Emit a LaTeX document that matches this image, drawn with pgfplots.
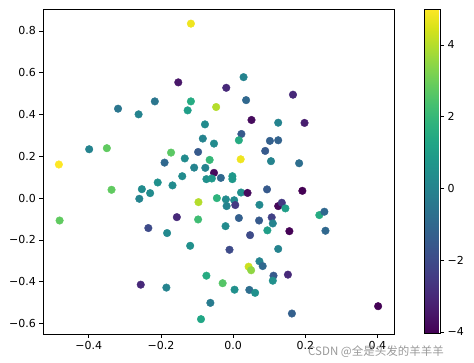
\documentclass[border=0pt]{standalone}
\usepackage{fontspec}
\setmainfont{DejaVu Sans}
\newfontfamily\cjk{Noto Sans CJK SC}
\usepackage{pgfplots}
\pgfplotsset{compat=1.18}
\usetikzlibrary{calc}
\pgfplotstableread{
x y c
-0.117 0.835 4.8
-0.152 0.554 -3.5
-0.217 0.463 -0.5
-0.117 0.463 1.5
-0.319 0.428 -0.5
-0.262 0.401 0
-0.126 0.420 1.0
-0.047 0.436 4.0
-0.078 0.353 0.3
-0.084 0.285 0
-0.053 0.261 0.3
-0.097 0.221 -1.5
-0.399 0.234 0
-0.350 0.239 2.8
-0.483 0.161 5.0
-0.172 0.218 2.7
-0.134 0.190 0.3
-0.190 0.170 -1.0
-0.065 0.183 2.0
-0.108 0.146 0
-0.077 0.145 0
-0.053 0.121 -3.8
0.029 0.579 0
-0.019 0.528 -3
0.166 0.495 -3
0.036 0.469 -1
0.051 0.374 -3.8
0.125 0.361 0
0.198 0.360 -3.3
0.023 0.307 -1.5
0.016 0.277 1.5
0.102 0.274 -1.3
0.125 0.277 -1.2
0.089 0.226 -1.5
0.021 0.186 4.8
0.105 0.177 0
0.183 0.167 -0.8
-0.074 0.091 0.5
-0.059 0.094 0.8
-0.141 0.105 0.3
-0.209 0.075 0.5
-0.168 0.061 0.3
-0.337 0.040 2.8
-0.253 0.043 0.3
-0.230 0.024 0.3
-0.260 -0.003 0
-0.096 -0.019 4.0
-0.045 0.000 1.8
-0.481 -0.107 2.8
-0.156 -0.091 -3
-0.097 -0.102 2.2
-0.235 -0.143 -2
-0.183 -0.167 0.2
-0.119 -0.228 0.5
-0.074 -0.371 1.5
-0.256 -0.414 -3
-0.185 -0.428 0
-0.063 -0.501 -0.3
-0.089 -0.579 1.3
-0.034 0.097 -1
-0.002 0.105 0.8
-0.002 0.091 0.8
-0.020 -0.006 0.3
0.003 -0.010 0.2
-0.018 -0.038 0
0.006 -0.033 -2.5
0.022 0.027 0.5
0.040 0.025 -3.8
0.094 0.042 -1.5
0.192 0.035 -4.03
0.073 -0.032 0.2
0.125 -0.038 -3.9
0.135 -0.022 -2.5
0.145 -0.049 1.0
0.016 -0.095 -1.3
0.072 -0.107 -1.5
0.107 -0.092 -2.3
0.110 -0.121 0
-0.021 -0.134 0.3
0.095 -0.154 1.0
0.156 -0.158 -4
0.239 -0.081 1.5
0.253 -0.065 -1
0.256 -0.156 -1
0.047 -0.177 -2
-0.010 -0.247 -2
0.125 -0.243 0
0.073 -0.302 0
0.082 -0.325 -1
0.043 -0.328 4.3
0.050 -0.345 3.5
0.112 -0.371 -1.5
0.110 -0.395 0.5
0.152 -0.366 -3
-0.029 -0.407 2.6
0.004 -0.438 0.5
0.045 -0.439 -0.8
0.061 -0.453 0.5
0.163 -0.552 -1.3
0.402 -0.517 -4
}\pts
\begin{document}
\begin{tikzpicture}
\begin{axis}[name=main, at={(0,0)}, anchor=south west,
  scale only axis, width=351pt, height=325pt,
  xmin=-0.527, xmax=0.446, ymin=-0.650, ymax=0.905,
  xtick={-0.4,-0.2,0,0.2,0.4}, xticklabels={−0.4,−0.2,0.0,0.2,0.4},
  ytick={-0.6,-0.4,-0.2,0,0.2,0.4,0.6,0.8},
  yticklabels={−0.6,−0.4,−0.2,0.0,0.2,0.4,0.6,0.8},
  xtick pos=bottom, ytick pos=left,
  tick align=outside, major tick length=3.6pt,
  tick style={black, line width=0.7pt},
  axis line style={line width=0.7pt},
  tick label style={font=\fontsize{11}{13}\selectfont},
  colormap name=viridis,
  point meta min=-4.03, point meta max=5.0,
  colorbar,
  colorbar style={at={(parent axis.north east)}, anchor=north west, xshift=21.7pt,
    scale only axis, width=16.3pt, height=324pt,
    ytick={-4,-2,0,2,4}, yticklabels={−4,−2,0,2,4},
    ytick pos=right, yticklabel pos=right,
    tick align=outside, major tick length=3.6pt,
    tick style={black, line width=0.7pt},
    axis line style={line width=0.7pt},
    tick label style={font=\fontsize{11}{13}\selectfont}},
]
\addplot[scatter, only marks, mark=*, mark size=3.8pt,
  scatter/use mapped color={draw=mapped color, fill=mapped color},
  point meta=explicit] table[x=x, y=y, meta=c] {\pts};
\end{axis}
\node[anchor=base west, text=black!40, font=\cjk\fontsize{11.5}{13}\selectfont, inner sep=0pt]
  at ($(main.south west)+(265pt,-21pt)$) {CSDN @全是头发的羊羊羊};
\pgfresetboundingbox
\path[use as bounding box] ($(main.south west)+(-43pt,-28pt)$) rectangle ($(main.south west)+(431pt,334pt)$);
\end{tikzpicture}
\end{document}
